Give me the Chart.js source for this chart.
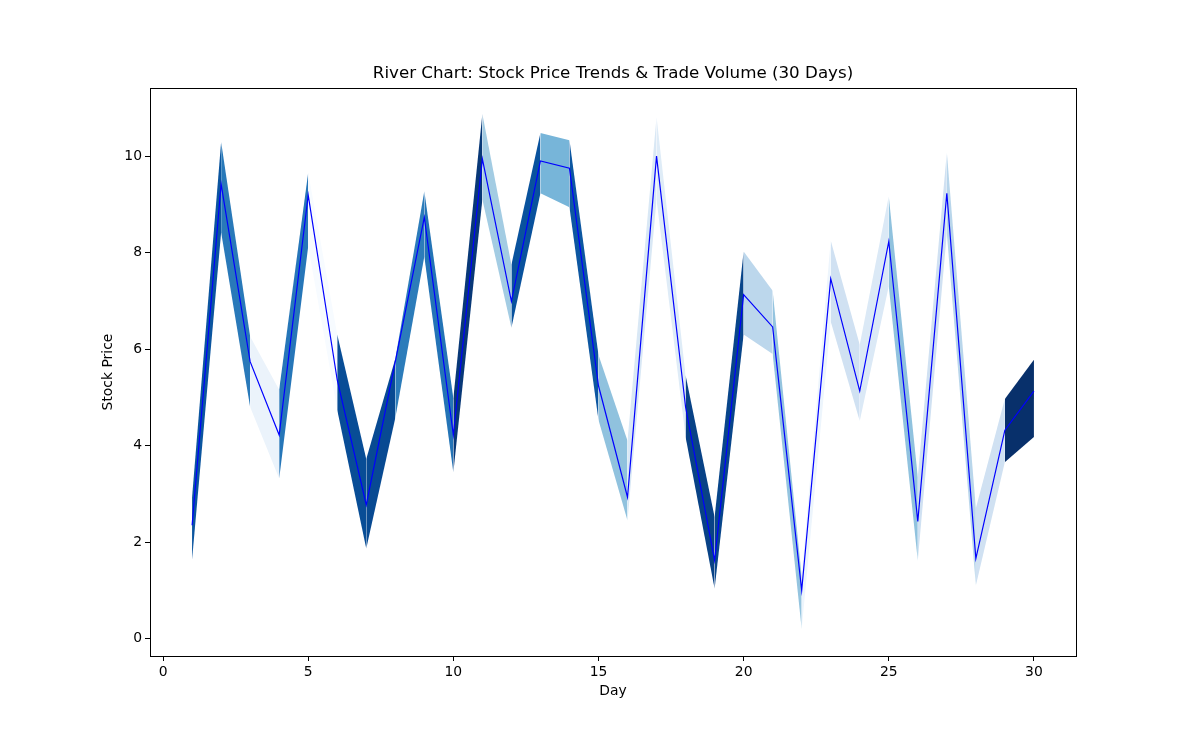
<!DOCTYPE html>
<html>
<head>
<meta charset="utf-8">
<title>River Chart</title>
<script src="https://cdn.jsdelivr.net/npm/chart.js@4.4.1/dist/chart.umd.min.js"></script>
<style>
    body { margin: 0; background: #ffffff; }
    #wrap { width: 1195px; height: 737px; }
</style>
</head>
<body>
<div id="wrap"><canvas id="riverChart" width="1195" height="737"></canvas></div>
<script>
// values
const days = [1, 2, 3, 4, 5, 6, 7, 8, 9, 10, 11, 12, 13, 14, 15, 16, 17, 18, 19, 20, 21, 22, 23, 24, 25, 26, 27, 28, 29, 30];
const prices = [2.35, 9.42, 5.74, 4.22, 9.19, 5.36, 2.77, 5.74, 8.73, 4.22, 9.94, 6.99, 9.90, 9.75, 5.24, 2.93, 10.0, 4.8, 1.62, 7.13, 6.46, 1.0, 7.46, 5.13, 8.23, 2.43, 9.23, 1.66, 4.32, 5.13];
const bandUpper = [2.93, 10.29, 6.26, 5.16, 9.66, 6.30, 3.72, 5.80, 9.27, 4.98, 10.87, 7.75, 10.48, 10.33, 5.88, 4.10, 10.81, 5.46, 2.52, 8.02, 7.21, 1.30, 8.25, 6.09, 9.17, 3.35, 10.08, 2.70, 4.97, 5.78];
const bandLower = [1.64, 8.42, 4.80, 3.32, 8.13, 4.74, 1.87, 4.57, 7.92, 3.45, 9.10, 6.44, 9.23, 8.94, 4.53, 2.45, 9.10, 4.18, 1.04, 6.30, 5.90, 0.20, 6.57, 4.51, 7.30, 1.62, 8.40, 1.10, 3.66, 4.18];
const volumes = [4370, 3740, 770, 3785, 500, 4505, 4550, 3695, 3830, 4865, 2120, 4415, 2615, 4325, 2345, 1175, 1040, 4685, 4640, 1760, 2300, 725, 1400, 1130, 2345, 1400, 1805, 1400, 5000, 3200];
const xTicks = [0, 5, 10, 15, 20, 25, 30];
const yTicks = [0, 2, 4, 6, 8, 10];

// matplotlib "Blues" colormap
const bluesStops = ["#f7fbff", "#deebf7", "#c6dbef", "#9ecae1", "#6baed6", "#4292c6", "#2171b5", "#08519c", "#08306b"];

function hexToRgb(h) {
    return [parseInt(h.slice(1, 3), 16), parseInt(h.slice(3, 5), 16), parseInt(h.slice(5, 7), 16)];
}

function blues(t) {
    t = Math.max(0, Math.min(1, t));
    const pos = t * (bluesStops.length - 1);
    const i = Math.min(Math.floor(pos), bluesStops.length - 2);
    const f = pos - i;
    const a = hexToRgb(bluesStops[i]);
    const b = hexToRgb(bluesStops[i + 1]);
    const c = a.map((v, k) => Math.round(v + (b[k] - v) * f));
    return `rgb(${c[0]}, ${c[1]}, ${c[2]})`;
}

const volMin = Math.min(...volumes);
const volMax = Math.max(...volumes);

const datasets = [];

// price line on top of everything
datasets.push({
    label: "Stock Price",
    data: days.map((d, i) => ({ x: d, y: prices[i] })),
    borderColor: "#0000ff",
    borderWidth: 1.2,
    pointRadius: 0,
    tension: 0,
    fill: false,
    order: 0
});

// one filled band per day-to-day segment, coloured by volume
for (let i = 0; i < days.length - 1; i++) {
    const color = blues((volumes[i] - volMin) / (volMax - volMin));
    datasets.push({
        label: "low" + i,
        data: [{ x: days[i], y: bandLower[i] }, { x: days[i + 1], y: bandLower[i + 1] }],
        borderWidth: 0,
        borderColor: "rgba(0,0,0,0)",
        pointRadius: 0,
        fill: false,
        order: 1000 - i
    });
    datasets.push({
        label: "high" + i,
        data: [{ x: days[i], y: bandUpper[i] }, { x: days[i + 1], y: bandUpper[i + 1] }],
        borderWidth: 0,
        borderColor: "rgba(0,0,0,0)",
        backgroundColor: color,
        pointRadius: 0,
        fill: "-1",
        order: 1000 - i
    });
}

// axes box on all four sides, like matplotlib spines
const frame = {
    id: "frame",
    afterDatasetsDraw(chart) {
        const { ctx, chartArea: a } = chart;
        ctx.save();
        ctx.strokeStyle = "#000";
        ctx.lineWidth = 1;
        ctx.strokeRect(Math.round(a.left) + 0.5, Math.round(a.top) + 0.5, Math.round(a.right - a.left), Math.round(a.bottom - a.top));
        ctx.restore();
    }
};

Chart.defaults.font.family = "'DejaVu Sans', sans-serif";
Chart.defaults.color = "#000";

new Chart(document.getElementById("riverChart"), {
    type: "line",
    data: { datasets },
    plugins: [frame],
    options: {
        responsive: false,
        animation: false,
        devicePixelRatio: 1,
        layout: { padding: { top: 64, left: 100, right: 119, bottom: 37 } },
        plugins: {
            legend: { display: false },
            tooltip: { enabled: false },
            filler: { propagate: false },
            title: {
                display: true,
                fullSize: false,
                text: "River Chart: Stock Price Trends & Trade Volume (30 Days)",
                font: { size: 16.7, weight: "normal" },
                padding: { top: 0, bottom: 4 }
            }
        },
        scales: {
            x: {
                type: "linear",
                min: -0.45,
                max: 31.45,
                afterFit: (s) => { s.height = 44; },
                afterBuildTicks: (s) => { s.ticks = xTicks.map(v => ({ value: v })); },
                grid: { display: true, drawOnChartArea: false, drawTicks: true, tickLength: 5, color: "#000" },
                border: { display: true, color: "#000" },
                ticks: { font: { size: 13.9 }, padding: 3, maxRotation: 0 },
                title: { display: true, text: "Day", font: { size: 13.9 }, padding: 0 }
            },
            y: {
                type: "linear",
                min: -0.36,
                max: 11.41,
                afterFit: (s) => { s.width = 50; },
                afterBuildTicks: (s) => { s.ticks = yTicks.map(v => ({ value: v })); },
                grid: { display: true, drawOnChartArea: false, drawTicks: true, tickLength: 5, color: "#000" },
                border: { display: true, color: "#000" },
                ticks: { font: { size: 13.9 }, padding: 3 },
                title: { display: true, text: "Stock Price", font: { size: 13.9 }, padding: 0 }
            }
        }
    }
});
</script>
</body>
</html>
